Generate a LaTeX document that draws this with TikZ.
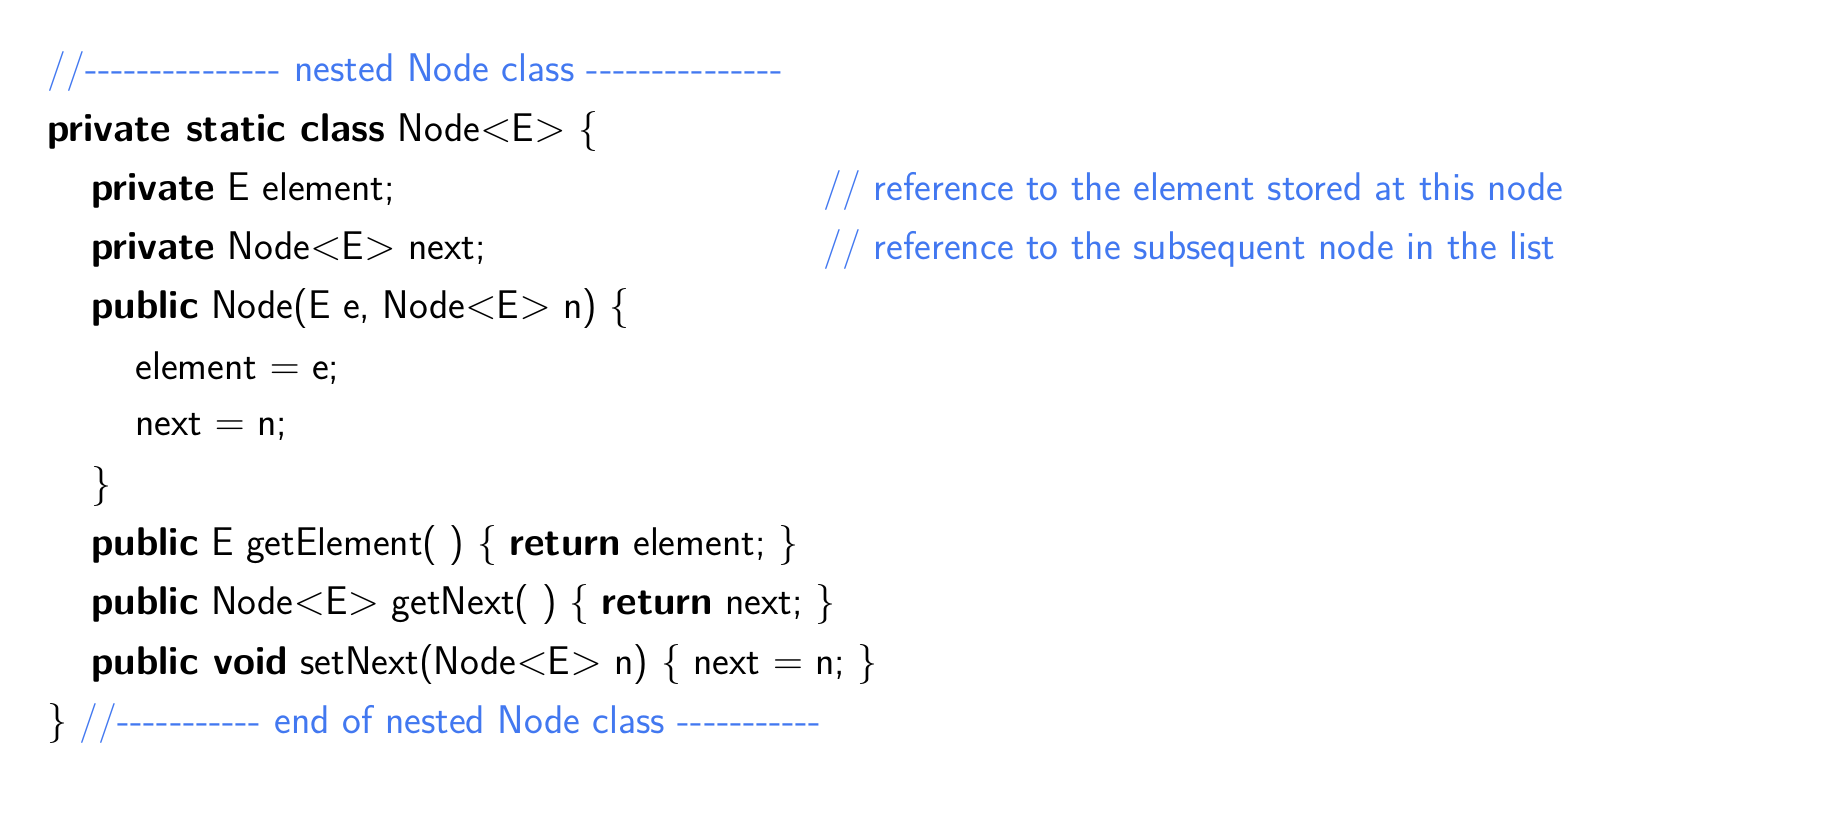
\documentclass[tikz,border=0pt]{standalone}
\usepackage{fontspec}
\definecolor{cblue}{RGB}{66,120,240}
\newcommand{\hy}[1]{\foreach \i in {1,...,#1}{-\kern0.3pt}}
\newcommand{\kw}[1]{\textbf{#1}}
\begin{document}
\begin{tikzpicture}[x=1pt,y=1pt,
  codeline/.style={anchor=west,inner sep=0pt,font=\fontsize{20}{24}\selectfont\sffamily},
  cmtline/.style={codeline,text=cblue}]
\useasboundingbox (0,0) rectangle (913,416);
\def\Y#1{416-36-#1*29.6}
\node[cmtline] (l0) at (23.5,{\Y0}) {//\hy{15} nested Node class \hy{15}};
\node[codeline] (l1) at (23.5,{\Y1}) {\kw{private static class} Node$<$E$>$ \{};
\node[codeline] (l2) at (45.4,{\Y2}) {\kw{private} E element;};
\node[cmtline] (c2) at (411.6,{\Y2}) {// reference to the element stored at this node};
\node[codeline] (l3) at (45.4,{\Y3}) {\kw{private} Node$<$E$>$ next;};
\node[cmtline] (c3) at (411.6,{\Y3}) {// reference to the subsequent node in the list};
\node[codeline] (l4) at (45.4,{\Y4}) {\kw{public} Node(E e, Node$<$E$>$ n) \{};
\node[codeline] (l5) at (67.5,{\Y5}) {element $=$ e;};
\node[codeline] (l6) at (67.5,{\Y6}) {next $=$ n;};
\node[codeline] (l7) at (45.4,{\Y7}) {\}};
\node[codeline] (l8) at (45.4,{\Y8}) {\kw{public} E getElement( ) \{ \kw{return} element; \}};
\node[codeline] (l9) at (45.4,{\Y9}) {\kw{public} Node$<$E$>$ getNext( ) \{ \kw{return} next; \}};
\node[codeline] (l10) at (45.4,{\Y{10}}) {\kw{public void} setNext(Node$<$E$>$ n) \{ next $=$ n; \}};
\node[codeline] (l11) at (23.5,{\Y{11}}) {\} \textcolor{cblue}{//\hy{11} end of nested Node class \hy{11}}};
\end{tikzpicture}
\end{document}
